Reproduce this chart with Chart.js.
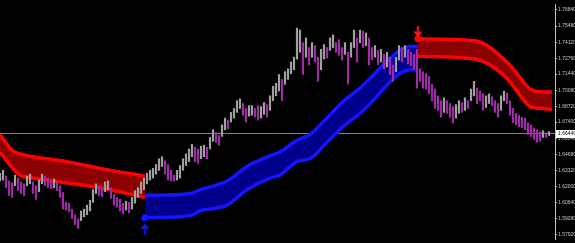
<!DOCTYPE html>
<html>
<head>
<meta charset="utf-8">
<script src="https://cdn.jsdelivr.net/npm/chart.js@4/dist/chart.umd.min.js"></script>
<style>
  html, body { margin: 0; padding: 0; background: #000; }
  #canvas { display: block; background: #000; }
</style>
</head>
<body>
<canvas id="canvas" width="575" height="243"></canvas>
<script>
// Etiquetas del eje de precios (a la derecha)
var tickValues = [1.7684, 1.7548, 1.7412, 1.7276, 1.7144, 1.7008, 1.6872, 1.6740,
                  1.6604, 1.6468, 1.6332, 1.6200, 1.6064, 1.5928, 1.5792];
var lastPrice = 1.6644;

// Barras de precio: maximo y minimo de cada vela
var barHigh = [
  1.6310,1.6335,1.6286,1.6245,1.6229,1.6294,1.6270,1.6237,1.6221,1.6286,
  1.6302,1.6237,1.6205,1.6253,1.6302,1.6286,1.6270,1.6245,1.6262,1.6237,
  1.6205,1.6148,1.6066,1.6058,1.6009,1.5961,1.5928,1.5993,1.6009,1.6042,
  1.6083,1.6172,1.6221,1.6205,1.6188,1.6237,1.6245,1.6188,1.6131,1.6107,
  1.6091,1.6058,1.6075,1.6066,1.6107,1.6164,1.6188,1.6237,1.6270,1.6310,
  1.6335,1.6351,1.6383,1.6432,1.6449,1.6416,1.6383,1.6335,1.6294,1.6335,
  1.6375,1.6432,1.6473,1.6514,1.6554,1.6530,1.6514,1.6538,1.6546,1.6530,
  1.6611,1.6676,1.6652,1.6627,1.6717,1.6774,1.6757,1.6822,1.6855,1.6920,
  1.6936,1.6896,1.6855,1.6879,1.6879,1.6855,1.6879,1.6871,1.6904,1.6887,
  1.6961,1.7042,1.7066,1.7140,1.7099,1.7164,1.7188,1.7245,1.7286,1.7530,
  1.7514,1.7408,1.7448,1.7367,1.7408,1.7383,1.7286,1.7351,1.7392,1.7367,
  1.7448,1.7473,1.7408,1.7432,1.7367,1.7408,1.7327,1.7408,1.7514,1.7448,
  1.7514,1.7505,1.7489,1.7448,1.7367,1.7383,1.7343,1.7351,1.7310,1.7327,
  1.7286,1.7221,1.7286,1.7383,1.7367,1.7383,1.7351,1.7327,1.7310,1.7351,
  1.7188,1.7164,1.7148,1.7123,1.7058,1.7018,1.6961,1.6920,1.6944,1.6920,
  1.6896,1.6871,1.6887,1.6920,1.6904,1.6944,1.6920,1.7018,1.7083,1.7026,
  1.7001,1.6977,1.6961,1.6977,1.6953,1.6920,1.6896,1.6961,1.7001,1.6985,
  1.6920,1.6855,1.6814,1.6798,1.6782,1.6774,1.6733,1.6717,1.6692,1.6676,
  1.6660,1.6668,1.6652,1.6660
];
var barLow = [
  1.6245,1.6253,1.6188,1.6123,1.6107,1.6205,1.6164,1.6140,1.6123,1.6205,
  1.6221,1.6140,1.6091,1.6156,1.6221,1.6205,1.6188,1.6180,1.6188,1.6164,
  1.6107,1.6009,1.6001,1.5985,1.5928,1.5879,1.5847,1.5912,1.5944,1.5961,
  1.5993,1.6066,1.6140,1.6123,1.6115,1.6156,1.6172,1.6099,1.6042,1.6026,
  1.5993,1.5969,1.6001,1.5977,1.6009,1.6058,1.6107,1.6140,1.6172,1.6221,
  1.6253,1.6270,1.6302,1.6335,1.6367,1.6302,1.6253,1.6245,1.6245,1.6253,
  1.6270,1.6335,1.6375,1.6408,1.6449,1.6408,1.6392,1.6432,1.6449,1.6432,
  1.6514,1.6579,1.6570,1.6546,1.6619,1.6676,1.6684,1.6741,1.6774,1.6822,
  1.6855,1.6798,1.6741,1.6790,1.6798,1.6782,1.6757,1.6774,1.6806,1.6782,
  1.6839,1.6920,1.6961,1.7001,1.6920,1.7058,1.7099,1.7148,1.7180,1.7270,
  1.7327,1.7140,1.7286,1.7221,1.7286,1.7245,1.7083,1.7180,1.7270,1.7278,
  1.7343,1.7367,1.7327,1.7302,1.7262,1.7310,1.7058,1.7286,1.7367,1.7245,
  1.7408,1.7367,1.7383,1.7221,1.7262,1.7286,1.7221,1.7245,1.7188,1.7205,
  1.7140,1.7083,1.7164,1.7262,1.7245,1.7286,1.7229,1.7213,1.7188,1.7026,
  1.7083,1.7026,1.7018,1.6977,1.6920,1.6855,1.6839,1.6782,1.6822,1.6814,
  1.6782,1.6733,1.6774,1.6814,1.6822,1.6839,1.6855,1.6920,1.6961,1.6896,
  1.6920,1.6839,1.6863,1.6896,1.6879,1.6822,1.6782,1.6839,1.6920,1.6896,
  1.6798,1.6733,1.6717,1.6700,1.6692,1.6676,1.6635,1.6619,1.6595,1.6570,
  1.6579,1.6611,1.6611,1.6627
];

// Banda roja (izquierda)
var redLeftX     = [0, 4.3, 6.7, 11, 22.3, 33.3, 48.3];
var redLeftUpper = [1.6635, 1.6497, 1.6473, 1.6449, 1.6408, 1.6351, 1.6286];
var redLeftLower = [1.6489, 1.6351, 1.6294, 1.6270, 1.6229, 1.6188, 1.6107];

// Banda azul (tendencia alcista)
var blueX     = [48.3, 63.3, 66.7, 75.7, 82.3, 90, 93.3, 99, 103.3, 109, 114.3, 120, 124.3, 129, 133.3, 136.7, 139.3];
var blueUpper = [1.6123, 1.6140, 1.6172, 1.6245, 1.6367, 1.6457, 1.6489, 1.6587, 1.6635, 1.6774, 1.6912, 1.7026, 1.7131, 1.7253, 1.7343, 1.7375, 1.7375];
var blueLower = [1.5936, 1.5953, 1.5993, 1.6042, 1.6172, 1.6270, 1.6294, 1.6408, 1.6432, 1.6570, 1.6700, 1.6814, 1.6920, 1.7050, 1.7148, 1.7180, 1.7180];

// Banda roja (derecha)
var redRightX     = [139.3, 158.3, 169, 172.3, 176.7, 181, 184];
var redRightUpper = [1.7440, 1.7424, 1.7245, 1.7148, 1.7018, 1.6993, 1.6993];
var redRightLower = [1.7294, 1.7270, 1.7107, 1.7001, 1.6871, 1.6855, 1.6847];

// Flechas de señal
var buyArrow  = {x: 48.3, y: 1.5839};
var sellArrow = {x: 139.3, y: 1.7505};

function puntos(xs, ys) {
  return xs.map(function(x, i) { return {x: x, y: ys[i]}; });
}

// Flecha dibujada en un canvas pequeño para usarla como pointStyle
function flecha(color, arriba) {
  var c = document.createElement('canvas');
  c.width = 9; c.height = 11;
  var g = c.getContext('2d');
  g.strokeStyle = color;
  g.lineWidth = 2;
  g.beginPath();
  if (arriba) {
    g.moveTo(4.5, 11); g.lineTo(4.5, 1.5);
    g.moveTo(1, 5); g.lineTo(4.5, 1.5); g.lineTo(8, 5);
  } else {
    g.moveTo(4.5, 0); g.lineTo(4.5, 9.5);
    g.moveTo(1, 6); g.lineTo(4.5, 9.5); g.lineTo(8, 6);
  }
  g.stroke();
  return c;
}

var barData = [];
var barColors = [];
for (var i = 0; i < barHigh.length; i++) {
  barData.push({x: i, y: [barLow[i], barHigh[i]]});
  var sube = i == 0 || (barHigh[i] + barLow[i]) >= (barHigh[i - 1] + barLow[i - 1]);
  barColors.push(sube ? '#a0a0a0' : '#a02aa8');
}

function primerPunto(r) {
  return function(ctx) { return ctx.dataIndex == 0 ? r : 0; };
}

function linea(data, color, fillColor, extra) {
  var ds = {
    type: 'line',
    data: data,
    borderColor: color,
    backgroundColor: fillColor || color,
    borderWidth: 3.5,
    pointRadius: 0,
    cubicInterpolationMode: 'monotone',
    fill: false,
    order: 1
  };
  for (var k in extra) ds[k] = extra[k];
  return ds;
}

// Etiqueta del precio actual sobre el eje
var etiquetaPrecio = {
  id: 'etiquetaPrecio',
  afterDraw: function(chart) {
    var ctx = chart.ctx;
    var y = chart.scales.y.getPixelForValue(lastPrice);
    var x = chart.chartArea.right + 1;
    ctx.save();
    ctx.fillStyle = '#ffffff';
    ctx.fillRect(x, Math.round(y) - 4, 575 - x, 8);
    ctx.fillStyle = '#000000';
    ctx.font = '5px "Liberation Sans"';
    ctx.textBaseline = 'middle';
    ctx.fillText(lastPrice.toFixed(5), x + 2, y);
    ctx.restore();
  }
};

var ctx = document.getElementById('canvas').getContext('2d');
window.myChart = new Chart(ctx, {
  type: 'line',
  data: {
    datasets: [
      linea(puntos(redLeftX, redLeftUpper), '#ff0000'),
      linea(puntos(redLeftX, redLeftLower), '#ff0000', '#8b0000', {fill: '-1'}),
      linea(puntos(blueX, blueUpper), '#1414ff'),
      linea(puntos(blueX, blueLower), '#1414ff', '#00008b', {fill: '-1', pointRadius: primerPunto(3.5), pointBackgroundColor: '#1414ff', pointBorderWidth: 0}),
      linea(puntos(redRightX, redRightUpper), '#ff0000', null, {pointRadius: primerPunto(3.5), pointBackgroundColor: '#ff0000', pointBorderWidth: 0}),
      linea(puntos(redRightX, redRightLower), '#ff0000', '#8b0000', {fill: '-1'}),
      {
        type: 'line',
        data: [{x: 0, y: lastPrice}, {x: 185, y: lastPrice}],
        borderColor: '#7c8591',
        borderWidth: 1,
        pointRadius: 0,
        order: 2
      },
      {
        type: 'bar',
        data: barData,
        backgroundColor: barColors,
        barThickness: 1.5,
        grouped: false,
        order: 0
      },
      {
        type: 'scatter',
        data: [buyArrow, sellArrow],
        pointStyle: [flecha('#1414ff', true), flecha('#ff2020', false)],
        order: 0
      }
    ]
  },
  options: {
    responsive: false,
    animation: false,
    layout: { padding: 0, autoPadding: false },
    plugins: {
      legend: { display: false },
      tooltip: { enabled: false },
      title: { display: false }
    },
    scales: {
      x: {
        type: 'linear',
        min: 0,
        max: 185,
        offset: false,
        display: false
      },
      y: {
        position: 'right',
        min: 1.57574,
        max: 1.7733,
        afterBuildTicks: function(scale) {
          scale.ticks = tickValues.map(function(v) { return {value: v}; });
        },
        afterFit: function(scale) { scale.width = 20; },
        grid: {
          drawOnChartArea: false,
          drawTicks: true,
          tickLength: 2,
          color: '#bfbfbf'
        },
        border: { display: true, color: '#bfbfbf', width: 1 },
        ticks: {
          autoSkip: false,
          padding: 1,
          color: '#c8c8c8',
          font: { family: '"Liberation Sans"', size: 5 },
          callback: function(v) { return Number(v).toFixed(5); }
        }
      }
    }
  },
  plugins: [etiquetaPrecio]
});
</script>
</body>
</html>
